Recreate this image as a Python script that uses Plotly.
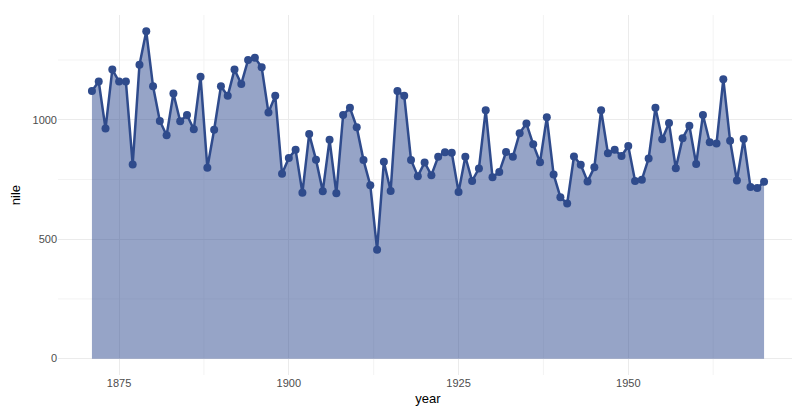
import plotly.graph_objects as go

years = list(range(1871, 1971))
nile = [1120,1160,963,1210,1160,1160,813,1230,1370,1140,995,935,1110,994,1020,960,1180,799,958,1140,
        1100,1210,1150,1250,1260,1220,1030,1100,774,840,874,694,940,833,701,916,692,1020,1050,969,
        831,726,456,824,702,1120,1100,832,764,821,768,845,864,862,698,845,744,796,1040,759,
        781,865,845,944,984,897,822,1010,771,676,649,846,812,742,801,1040,860,874,848,890,
        744,749,838,1050,918,986,797,923,975,815,1020,906,901,1170,912,746,919,718,714,740]

fig = go.Figure()
fig.add_trace(go.Scatter(x=years, y=nile, mode="lines+markers", fill="tozeroy",
                         fillcolor="rgba(46,74,143,0.5)",
                         line=dict(color="#2f4b8c", width=2.5),
                         marker=dict(color="#2f4b8c", size=8), showlegend=False))
fig.update_layout(
    width=800, height=409, plot_bgcolor="white", paper_bgcolor="white",
    margin=dict(l=48, r=10, t=7, b=42),
    font=dict(family="Liberation Sans, Arial", color="#4d4d4d", size=11),
    xaxis=dict(title=dict(text="year", font=dict(size=13, color="black"), standoff=5),
               range=[1866, 1975], tickvals=[1875, 1900, 1925, 1950],
               showgrid=True, gridcolor="#ebebeb", zeroline=False, showline=False, ticks=""),
    yaxis=dict(title=dict(text="nile", font=dict(size=13, color="black"), standoff=8),
               range=[-68.5, 1438.5], tickvals=[0, 500, 1000],
               showgrid=True, gridcolor="#ebebeb", zeroline=False, showline=False, ticks=""),
)
for v in [1862.5, 1887.5, 1912.5, 1937.5, 1962.5]:
    fig.add_vline(x=v, line=dict(color="#f3f3f3", width=1), layer="below")
for v in [250, 750, 1250]:
    fig.add_hline(y=v, line=dict(color="#f3f3f3", width=1), layer="below")
fig.write_html("out.html")
